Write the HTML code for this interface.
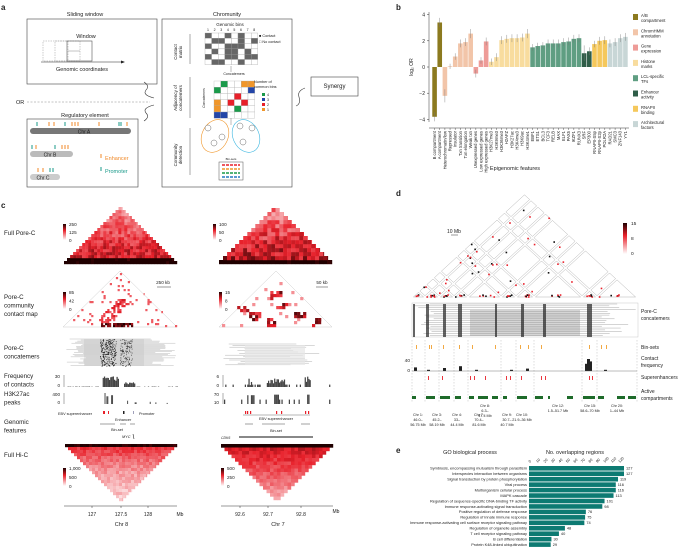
<!DOCTYPE html>
<html><head><meta charset="utf-8">
<style>
html,body{margin:0;padding:0;background:#fff;}
svg{display:block;font-family:"Liberation Sans",sans-serif;}
text{fill:#222;}
</style></head>
<body>
<svg id="fig" width="685" height="548" viewBox="0 0 685 548" xmlns="http://www.w3.org/2000/svg">
<defs>
<linearGradient id="cbar" x1="0" y1="1" x2="0" y2="0"><stop offset="0" stop-color="#fff"/><stop offset="0.6" stop-color="#e8202a"/><stop offset="1" stop-color="#200000"/></linearGradient>
</defs>
<text x="1" y="10" font-size="8" font-weight="bold">a</text>
<text x="396" y="10" font-size="8" font-weight="bold">b</text>
<text x="1" y="208" font-size="8" font-weight="bold">c</text>
<text x="396" y="196" font-size="8" font-weight="bold">d</text>
<text x="396" y="453" font-size="8" font-weight="bold">e</text>

<g id="pa" font-size="5.5">
  <text x="85" y="16" text-anchor="middle">Sliding window</text>
  <rect x="27" y="19" width="130" height="65" fill="none" stroke="#444" stroke-width="0.6"/>
  <text x="86" y="38" text-anchor="middle">Window</text>
  <rect x="43" y="41" width="25" height="20" fill="none" stroke="#999" stroke-width="0.5" stroke-dasharray="1.5,1"/>
  <rect x="55" y="41" width="25" height="20" fill="none" stroke="#999" stroke-width="0.5" stroke-dasharray="1.5,1"/>
  <rect x="67" y="41" width="25" height="20" fill="none" stroke="#555" stroke-width="0.6"/>
  <line x1="68" y1="51" x2="80" y2="51" stroke="#888" stroke-width="0.5"/>
  <line x1="41" y1="62" x2="124" y2="62" stroke="#222" stroke-width="0.6"/>
  <polygon points="125,62 121,60.5 121,63.5" fill="#222"/>
  <text x="82" y="71" text-anchor="middle">Genomic coordinates</text>
  <text x="16" y="104">OR</text>
  <line x1="27" y1="102" x2="150" y2="102" stroke="#888" stroke-width="0.5" stroke-dasharray="2,1.5"/>
  <path d="M144,82 q6,4 2,8 q-4,5 8,8" fill="none" stroke="#333" stroke-width="0.6"/>
  <path d="M144,121 q6,-4 2,-8 q-4,-5 8,-8" fill="none" stroke="#333" stroke-width="0.6"/>
  <text x="85" y="117" text-anchor="middle">Regulatory element</text>
  <rect x="27" y="119" width="111" height="68" fill="none" stroke="#444" stroke-width="0.6"/>
  <rect x="30" y="128" width="101" height="6" rx="3" fill="#777"/>
  <text x="84" y="133.5" text-anchor="middle" font-size="5">Chr A</text>
  <rect x="30" y="151" width="43" height="6" rx="3" fill="#bbb"/>
  <text x="50" y="156.5" text-anchor="middle" font-size="5">Chr B</text>
  <rect x="30" y="174" width="30" height="6" rx="3" fill="#ccc"/>
  <text x="43" y="179.5" text-anchor="middle" font-size="5">Chr C</text>
  <g stroke-width="1">
    <line x1="37" y1="122" x2="37" y2="126" stroke="#1a9a8a"/><line x1="49" y1="122" x2="49" y2="126" stroke="#f08a2a"/><line x1="54" y1="122" x2="54" y2="126" stroke="#f08a2a"/><line x1="65" y1="122" x2="65" y2="126" stroke="#1a9a8a"/><line x1="72" y1="122" x2="72" y2="126" stroke="#f08a2a"/><line x1="75" y1="122" x2="75" y2="126" stroke="#f08a2a"/><line x1="78" y1="122" x2="78" y2="126" stroke="#f08a2a"/><line x1="99" y1="122" x2="99" y2="126" stroke="#f08a2a"/><line x1="119" y1="122" x2="119" y2="126" stroke="#1a9a8a"/><line x1="121" y1="122" x2="121" y2="126" stroke="#1a9a8a"/><line x1="127" y1="122" x2="127" y2="126" stroke="#f08a2a"/>
    <line x1="32" y1="145" x2="32" y2="149" stroke="#1a9a8a"/><line x1="36" y1="145" x2="36" y2="149" stroke="#f08a2a"/><line x1="55" y1="145" x2="55" y2="149" stroke="#1a9a8a"/><line x1="62" y1="145" x2="62" y2="149" stroke="#f08a2a"/><line x1="65" y1="145" x2="65" y2="149" stroke="#f08a2a"/><line x1="68" y1="145" x2="68" y2="149" stroke="#f08a2a"/>
    <line x1="38" y1="168" x2="38" y2="172" stroke="#f08a2a"/><line x1="43" y1="168" x2="43" y2="172" stroke="#f08a2a"/><line x1="50" y1="168" x2="50" y2="172" stroke="#1a9a8a"/><line x1="53" y1="168" x2="53" y2="172" stroke="#1a9a8a"/>
    <line x1="101" y1="154" x2="101" y2="158" stroke="#f08a2a"/><line x1="101" y1="167" x2="101" y2="171" stroke="#1a9a8a"/>
  </g>
  <text x="105" y="160" style="fill:#f08a2a">Enhancer</text>
  <text x="105" y="173" style="fill:#1a9a8a">Promoter</text>

  <text x="227" y="16" text-anchor="middle">Chromunity</text>
  <rect x="162" y="19" width="130" height="168" fill="none" stroke="#444" stroke-width="0.6"/>
  <text x="230" y="26" text-anchor="middle" font-size="4.5">Genomic bins</text>
  <g id="cmat"></g>
  <g id="amat"></g>
  <text x="259" y="37" font-size="3.8">■ Contact</text>
  <text x="259" y="43" font-size="3.8">□ No contact</text>
  <text x="254" y="83" font-size="3.8">Number of</text>
  <text x="254" y="88" font-size="3.8">common bins</text>
  <rect x="262" y="93" width="3" height="3" fill="#1a9a4a"/><rect x="262" y="98" width="3" height="3" fill="#2346a8"/><rect x="262" y="103" width="3" height="3" fill="#e8202a"/><rect x="262" y="108" width="3" height="3" fill="#f0962a"/>
  <text x="267" y="96" font-size="3.5">4</text><text x="267" y="101" font-size="3.5">3</text><text x="267" y="106" font-size="3.5">2</text><text x="267" y="111" font-size="3.5">1</text>
  <text transform="translate(177,52) rotate(-90)" text-anchor="middle" font-size="4.5">Contact</text>
  <text transform="translate(182,52) rotate(-90)" text-anchor="middle" font-size="4.5">matrix</text>
  <text transform="translate(177,98) rotate(-90)" text-anchor="middle" font-size="4.5">Adjacency of</text>
  <text transform="translate(182,98) rotate(-90)" text-anchor="middle" font-size="4.5">concatemers</text>
  <text transform="translate(177,155) rotate(-90)" text-anchor="middle" font-size="4.5">Community</text>
  <text transform="translate(182,155) rotate(-90)" text-anchor="middle" font-size="4.5">detection</text>
  <line x1="190" y1="34" x2="190" y2="64" stroke="#555" stroke-width="0.5"/>
  <line x1="190" y1="77" x2="190" y2="118" stroke="#555" stroke-width="0.5"/>
  <line x1="190" y1="128" x2="190" y2="175" stroke="#555" stroke-width="0.5"/>
  <ellipse cx="215" cy="136" rx="13" ry="17" transform="rotate(25 215 136)" fill="none" stroke="#f0962a" stroke-width="0.6"/>
  <ellipse cx="246" cy="136" rx="13" ry="17" transform="rotate(-25 246 136)" fill="none" stroke="#3ab6e0" stroke-width="0.6"/>
  <g fill="#fff" stroke="#444" stroke-width="0.4"><circle cx="208" cy="128" r="3"/><circle cx="222" cy="137" r="3"/><circle cx="214" cy="143" r="3"/><circle cx="240" cy="126" r="3"/><circle cx="252" cy="128" r="3"/><circle cx="243" cy="142" r="3"/></g>
  <rect x="219" y="162" width="24" height="18" fill="none" stroke="#555" stroke-width="0.5"/>
  <text x="231" y="160" text-anchor="middle" font-size="3">Bin-sets</text>
  <g stroke-width="1.5" stroke-dasharray="3,1"><line x1="222" y1="165" x2="240" y2="165" stroke="#e8202a"/><line x1="222" y1="169" x2="240" y2="169" stroke="#f0962a"/><line x1="222" y1="173" x2="240" y2="173" stroke="#1a9a4a"/><line x1="222" y1="177" x2="240" y2="177" stroke="#2378c0"/></g>
  <path d="M296,106 q5,-2 3,-9 q-2,-6 6,-9" fill="none" stroke="#333" stroke-width="0.6"/>
  <rect x="311" y="77" width="47" height="19" fill="none" stroke="#444" stroke-width="0.6"/>
  <text x="334.5" y="88" text-anchor="middle" font-size="6">Synergy</text>
</g>

<g id="pb"></g>
<g id="pc" font-size="6"></g>
<g id="pd"></g>
<g id="pe"></g>
</svg>

<script>
// ---- Panel b data ----
const bLabels = ["B compartment","A compartment","Heterochromatin/low","Repressed","Insulator","Txn transition","Txn elongation","Weak txn","Unexpressed genes","Low expressed genes","High expressed genes","H3K27me3","H3K9me3","H3K36me3","H2AFZ","H3K27ac","H3K4me3","H3K9ac","H3K4me1","EBF1","ETS1","BCL3","TCF3","RELB","MAX","ELF1","PAX5","IKZF1","RUNX3","SRF","EP300","RNAPII-S5p","RNAPII-S2p","POLR2A","RAD21","SMC3","ZNF143","YY1"];
const bValues = [-3.8,3.4,-2.2,0.05,0.8,1.8,1.9,2.55,-0.5,0.5,1.95,0.4,0.75,2.05,2.15,2.2,2.2,2.25,2.55,1.5,1.6,1.65,1.8,1.8,1.8,1.9,1.95,2.15,2.2,1.05,1.2,1.75,2.0,2.05,1.8,1.9,2.2,2.3];
const bErrors = [0.35,0.35,0.5,0.2,0.25,0.3,0.3,0.35,0.3,0.25,0.3,0.25,0.3,0.3,0.3,0.3,0.3,0.3,0.35,0.25,0.25,0.25,0.3,0.3,0.3,0.3,0.3,0.3,0.3,0.6,0.3,0.25,0.3,0.3,0.3,0.3,0.3,0.3];
const bGroups = [0,0,1,1,1,1,1,1,2,2,2,3,3,3,3,3,3,3,3,4,4,4,4,4,4,4,4,4,4,5,5,6,6,6,7,7,7,7];
const bGroupNames = [["A/B","compartment"],["ChromHMM","annotation"],["Gene","expression"],["Histone","marks"],["LCL-specific","TFs"],["Enhancer","activity"],["RNAPII","binding"],["Architectural","factors"]];
const bGroupColors = ["#8c7a1f","#f2c5a9","#ee9c98","#f8dc9e","#5f9e82","#2f5d48","#f5c85c","#c8d6d6"];
const bTicks = [-4,-2,0,2,4];

// ---- Panel e data ----
const eLabels = ["Symbiosis, encompassing mutualism through parasitism","Interspecies interaction between organisms","Signal transduction by protein phosphorylation","Viral process","Multiorganism cellular process","MAPK cascade","Regulation of sequence-specific DNA-binding TF activity","Immune response-activating signal transduction","Positive regulation of defense response","Regulation of innate immune response","Immune response-activating cell surface receptor signaling pathway","Regulation of organelle assembly","T cell receptor signaling pathway","B cell differentiation","Protein K48-linked ubiquitination"];
const eValues = [127,127,119,116,116,113,101,98,76,75,74,48,40,30,29];
const eTicks = [0,10,20,30,40,50,60,70,80,90,100,110,120];

const NS="http://www.w3.org/2000/svg";
function mk(parent,tag,attrs,txt){const e=document.createElementNS(NS,tag);for(const k in attrs)e.setAttribute(k,attrs[k]);if(txt!==undefined)e.textContent=txt;parent.appendChild(e);return e;}
function hsh(i,j){const s=Math.sin(i*12.9898+j*78.233)*43758.5453;return s-Math.floor(s);}
function red(t){t=Math.max(0,Math.min(1,t));if(t<0.6){const k=t/0.6;return `rgb(${Math.round(255-(255-232)*k)},${Math.round(255-(255-32)*k)},${Math.round(255-(255-42)*k)})`;}const k=(t-0.6)/0.4;return `rgb(${Math.round(232-200*k)},${Math.round(32-32*k)},${Math.round(42-42*k)})`;}

// ---------- panel b ----------
(function(){
  const g=document.getElementById('pb');
  const x0=432,x1=628,y=v=>67-v*13.1;
  const step=(x1-x0)/bValues.length;
  mk(g,'line',{x1:429,y1:y(4.2),x2:429,y2:y(-4.2),stroke:'#333','stroke-width':0.5});
  mk(g,'line',{x1:429,y1:128,x2:629,y2:128,stroke:'#333','stroke-width':0.5});
  bTicks.forEach(t=>{
    mk(g,'line',{x1:427,y1:y(t),x2:429,y2:y(t),stroke:'#333','stroke-width':0.5});
    const tx=mk(g,'text',{x:425,y:y(t)+2,'font-size':5,'text-anchor':'end'},t<0?'\u2212'+(-t):String(t));
    
    
  });
  const yl=mk(g,'text',{transform:`translate(413,67) rotate(-90)`,'font-size':5,'text-anchor':'middle'},'log\u2082 OR');
  
  
  bValues.forEach((v,i)=>{
    const cx=x0+step*(i+0.5);
    const r=mk(g,'rect',{x:cx-2.3,y:Math.min(y(v),y(0)),width:4.6,height:Math.abs(y(v)-y(0)),fill:bGroupColors[bGroups[i]]});
    
    
    const e=bErrors[i]*(v<0?-1:1);
    mk(g,'line',{x1:cx,y1:y(v-e),x2:cx,y2:y(v+e),stroke:'#777','stroke-width':0.4});
    mk(g,'line',{x1:cx,y1:128,x2:cx,y2:130,stroke:'#333','stroke-width':0.4});
    const t=mk(g,'text',{transform:`translate(${cx+1.4},131) rotate(-90)`,'font-size':4.2,'text-anchor':'end'},bLabels[i]);
    
    
  });
  const xt=mk(g,'text',{x:515,y:170,'font-size':5.5,'text-anchor':'middle'},'Epigenomic features');
  
  
  bGroupNames.forEach((n,i)=>{
    const ly=14+i*15.3;
    const r=mk(g,'rect',{x:633,y:ly,width:5,height:6,fill:bGroupColors[i]});
    
    
    mk(g,'text',{x:641,y:ly+3,'font-size':4.2},n[0]);
    mk(g,'text',{x:641,y:ly+8,'font-size':4.2},n[1]);
  });
})();

// ---------- panel e ----------
(function(){
  const g=document.getElementById('pe');
  const bx=529,sc=95/127,y0=466,st=5.45;
  mk(g,'text',{x:470,y:454,'font-size':5.5,'text-anchor':'middle'},'GO biological process');
  mk(g,'text',{x:575,y:454,'font-size':5.5,'text-anchor':'middle'},'No. overlapping regions');
  eTicks.forEach(t=>{
    const tx=mk(g,'text',{transform:`translate(${bx+t*sc+1},463) rotate(-45)`,'font-size':3.8},String(t));
    
    
  });
  eValues.forEach((v,i)=>{
    const yy=y0+i*st;
    const r=mk(g,'rect',{x:bx,y:yy,width:v*sc,height:4.6,fill:'#0d7a72'});
    
    
    mk(g,'text',{x:bx-2,y:yy+3.6,'font-size':3.9,'text-anchor':'end'},eLabels[i]);
    mk(g,'text',{x:bx+v*sc+2,y:yy+3.6,'font-size':3.9},String(v));
  });
})();

// ---------- panel a matrices ----------
(function(){
  const g=document.getElementById('cmat');
  const pat=["10010100","01100101","10011100","01011010","10011011","01100100"];
  for(let r=0;r<6;r++)for(let c=0;c<8;c++)mk(g,'rect',{x:205+c*6.6,y:33+r*5.3,width:6.6,height:5.3,fill:pat[r][c]=='1'?'#666':'#fff',stroke:'#999','stroke-width':0.3});
  for(let c=0;c<8;c++)mk(g,'text',{x:208+c*6.6,y:31,'font-size':3.5,'text-anchor':'middle'},String(c+1));
  mk(g,'line',{x1:231,y1:66,x2:231,y2:72,stroke:'#555','stroke-width':0.4});
  const a=document.getElementById('amat');
  const col={4:'#1a9a4a',3:'#2346a8',2:'#e8202a',1:'#f0962a'};
  const m=[[0,4,0,0,1,1],[4,0,0,0,0,3],[0,0,0,2,0,0],[1,0,2,0,2,0],[1,0,0,4,0,0],[3,3,0,0,0,0]];
  for(let r=0;r<6;r++)for(let c=0;c<6;c++)mk(a,'rect',{x:214+c*6.8,y:81+r*6.2,width:6.8,height:6.2,fill:m[r][c]?col[m[r][c]]:'#fff',stroke:'#aaa','stroke-width':0.3});
  mk(a,'text',{x:234,y:75,'font-size':3.6,'text-anchor':'middle'},'Concatemers');
  mk(a,'text',{transform:'translate(205,98) rotate(-90)','font-size':3.3,'text-anchor':'middle'},'Concatemers');
  mk(a,'line',{x1:231,y1:118,x2:231,y2:125,stroke:'#555','stroke-width':0.4});
})();

function triHeat(g,xa,xb,yb,h,up,fn,cell){
  const w=xb-xa;
  for(let yy=0;yy<h;yy+=cell){
    const d=yy/h; const half=(1-d)*w/2;
    const cx=(xa+xb)/2;
    for(let xx=cx-half;xx<cx+half-0.1;xx+=cell){
      const u=(xx-xa)/w;
      const v=fn(u,d,Math.round(xx*7),Math.round(yy*7));
      if(v<0.04)continue;
      const py=up?yb-yy-cell:yb+yy;
      mk(g,'rect',{x:xx.toFixed(1),y:py.toFixed(1),width:Math.min(cell,cx+half-xx)+0.2,height:cell+0.2,fill:red(v)});
    }
  }
}
(function(){
  const g=document.getElementById('pc');
  const lab=(x,y,lines)=>lines.forEach((l,i)=>mk(g,'text',{x:x,y:y+i*8.5,'font-size':6.2},l));
  lab(4,235,['Full Pore-C']);
  lab(4,299,['Pore-C','community','contact map']);
  lab(4,350,['Pore-C','concatemers']);
  lab(4,378,['Frequency','of contacts']);
  lab(4,396,['H3K27ac','peaks']);
  lab(4,424,['Genomic','features']);
  lab(4,457,['Full Hi-C']);
  const cb=(x,y,h,labels)=>{mk(g,'rect',{x:x,y:y,width:3,height:h,fill:'url(#cbar)'});labels.forEach((t,i)=>mk(g,'text',{x:x+6,y:y+2+i*h/2,'font-size':4.6},t));};
  cb(63,224,16,['250','125','0']);cb(213,224,16,['100','50','0']);
  cb(63,292,17,['85','42','0']);cb(219,292,17,['15','8','0']);
  cb(63,468,18,['1,000','500','0']);cb(221,468,18,['500','250','0']);
  triHeat(g,64,177,264,56,true,(u,d,i,j)=>0.15+0.4*(1-d)+0.3*hsh(i,j)+(d<0.06?0.4:0),3);
  triHeat(g,219,332,264,56,true,(u,d,i,j)=>0.15+0.4*(1-d)+0.35*hsh(i,j)+(d<0.07?0.4:0),4);
  mk(g,'polygon',{points:'63,327 120,271 177,327',fill:'none',stroke:'#ccc','stroke-width':0.5});
  mk(g,'polygon',{points:'219,327 276,271 332,327',fill:'none',stroke:'#ccc','stroke-width':0.5});
  triHeat(g,63,177,327,56,true,(u,d,i,j)=>{const r=hsh(i,j);let v=r>0.93?0.25+0.2*r:0;if(u>0.3&&u<0.65&&Math.abs(u-0.3-d*0.5)<0.07&&d<0.5&&r>0.4)v=Math.max(v,0.25+0.4*r);if(d<0.07&&u>0.33&&u<0.6&&r>0.3)v=0.6+0.4*r;return v;},2);
  triHeat(g,219,332,327,56,true,(u,d,i,j)=>{const r=hsh(i,j);const bl=[[0.3,0.15],[0.55,0.35],[0.7,0.18],[0.45,0.05],[0.85,0.05],[0.2,0.3],[0.5,0.55]];let v=0;bl.forEach(b=>{if(Math.abs(u-b[0])<0.05&&Math.abs(d-b[1])<0.07&&r>0.3)v=Math.max(v,0.3+0.6*r);});if(r>0.96)v=Math.max(v,0.3);return v;},3);
  mk(g,'text',{x:163,y:284,'font-size':4.6,'text-anchor':'middle'},'250 kb');
  mk(g,'line',{x1:157,y1:287,x2:171,y2:287,stroke:'#333','stroke-width':0.5});
  mk(g,'text',{x:322,y:284,'font-size':4.6,'text-anchor':'middle'},'50 kb');
  mk(g,'line',{x1:316,y1:287,x2:328,y2:287,stroke:'#333','stroke-width':0.5});
  // concatemers left
  for(let k=0;k<26;k++){const yy=339+k*1.05;const xs=66+hsh(k,1)*20,xe=150+hsh(k,2)*27;mk(g,'line',{x1:xs,y1:yy,x2:xe,y2:yy,stroke:'#bbb','stroke-width':0.5});}
  mk(g,'rect',{x:84,y:339,width:60,height:27,fill:'#bbb',opacity:0.3});
  for(let k=0;k<260;k++){const xx=100+hsh(k,21)*16,yy=339+hsh(k,22)*27;mk(g,'rect',{x:xx,y:yy,width:0.8,height:0.8,fill:'#222'});}
  for(let k=0;k<120;k++){const xx=120+hsh(k,23)*12,yy=339+hsh(k,24)*27;mk(g,'rect',{x:xx,y:yy,width:0.8,height:0.8,fill:'#333'});}
  // concatemers right
  for(let k=0;k<14;k++){const yy=344+k*1.6;const xs=222+hsh(k,3)*25,xe=290+hsh(k,4)*30;mk(g,'line',{x1:xs,y1:yy,x2:xe,y2:yy,stroke:'#aaa','stroke-width':0.45});}
  mk(g,'rect',{x:245,y:345,width:60,height:20,fill:'#e6e6e6',opacity:0.7});
  const track=(x0,x1,yb,h,lbls,fn,n)=>{mk(g,'line',{x1:x0,y1:yb-h,x2:x0,y2:yb,stroke:'#333','stroke-width':0.4});mk(g,'text',{x:x0-4,y:yb-h+3,'font-size':4.6,'text-anchor':'end'},lbls[0]);mk(g,'text',{x:x0-4,y:yb,'font-size':4.6,'text-anchor':'end'},lbls[1]);for(let k=0;k<n;k++){const u=k/n;const v=fn(u,k);if(v>0.02)mk(g,'rect',{x:x0+1+u*(x1-x0),y:yb-v*h,width:(x1-x0)/n,height:v*h,fill:'#444'});}};
  track(64,177,387,12,['30','0'],(u,k)=>u>0.33&&u<0.47?0.5+0.4*hsh(k,5):(u>0.52&&u<0.62?0.2+0.2*hsh(k,6):0.04*hsh(k,7)),90);
  track(64,177,404,11,['400','0'],(u,k)=>{const p=[[0.35,1],[0.37,0.7],[0.41,0.8],[0.55,0.3],[0.62,0.15],[0.75,0.2],[0.8,0.15],[0.9,0.1]];let v=0;p.forEach(q=>{if(Math.abs(u-q[0])<0.008)v=q[1];});return v;},120);
  track(223,333,387,12,['6','0'],(u,k)=>{const r=hsh(k,8);if(u>0.38&&u<0.55)return 0.3+0.4*r;if(u>0.73&&u<0.78)return 0.4+0.5*r;if(u>0.22&&u<0.25)return 0.7*r;return r>0.8?0.2:0;},90);
  track(223,333,404,11,['70','10'],(u,k)=>{const r=hsh(k,9);if(u>0.2&&u<0.27)return r>0.4?0.8:0;if((u>0.45&&u<0.5)||(u>0.74&&u<0.8))return r>0.4?0.85:0;return r>0.85?0.4:0;},90);
  mk(g,'text',{x:58,y:415,'font-size':3.8},'EBV superenhancer');
  mk(g,'rect',{x:103,y:411,width:2,height:3,fill:'#e8202a'});mk(g,'rect',{x:108,y:411,width:1,height:3,fill:'#e8202a'});
  mk(g,'rect',{x:123,y:411,width:1.5,height:3,fill:'#222'});mk(g,'rect',{x:133,y:411,width:0.8,height:3,fill:'#88a'});
  mk(g,'text',{x:139,y:415,'font-size':3.8},'Promoter');
  mk(g,'text',{x:115,y:421,'font-size':3.8},'Enhancer');
  mk(g,'line',{x1:100,y1:424,x2:115,y2:424,stroke:'#888','stroke-width':0.8});mk(g,'line',{x1:120,y1:424,x2:126,y2:424,stroke:'#888','stroke-width':0.8});mk(g,'line',{x1:130,y1:424,x2:135,y2:424,stroke:'#888','stroke-width':0.8});
  mk(g,'text',{x:117,y:431,'font-size':3.8,'text-anchor':'middle'},'Bin-set');
  mk(g,'text',{x:122,y:438,'font-size':3.8,'font-style':'italic'},'MYC');mk(g,'line',{x1:133,y1:434,x2:134,y2:439,stroke:'#222','stroke-width':0.6});
  [245,247,250,276,281,305,308].forEach(x=>mk(g,'rect',{x:x,y:411,width:1.2,height:3,fill:'#e8202a'}));
  mk(g,'line',{x1:243,y1:415,x2:310,y2:415,stroke:'#444','stroke-width':0.4});
  mk(g,'text',{x:276,y:420,'font-size':3.8,'text-anchor':'middle'},'EBV superenhancer');
  mk(g,'line',{x1:245,y1:424,x2:253,y2:424,stroke:'#888','stroke-width':0.8});mk(g,'line',{x1:262,y1:424,x2:285,y2:424,stroke:'#888','stroke-width':0.8});mk(g,'line',{x1:301,y1:424,x2:310,y2:424,stroke:'#888','stroke-width':0.8});
  mk(g,'text',{x:276,y:432,'font-size':3.8,'text-anchor':'middle'},'Bin-set');
  mk(g,'text',{x:221,y:439,'font-size':3.5,'font-style':'italic'},'CDK6');
  mk(g,'line',{x1:239,y1:437,x2:313,y2:437,stroke:'#111','stroke-width':1});
  // Hi-C
  triHeat(g,65,177,444,56,false,(u,d,i,j)=>0.08+0.45*(1-d)*(1-d)+0.15*hsh(i,j)+(d<0.05?0.4:0),3);
  triHeat(g,221,333,444,56,false,(u,d,i,j)=>0.15+0.45*(1-d)+0.15*hsh(i,j)+(d<0.05?0.4:0),3.5);
  const ax=(x0,x1,ticks,chr,mby)=>{mk(g,'line',{x1:x0,y1:506,x2:x1,y2:506,stroke:'#333','stroke-width':0.5});ticks.forEach(t=>{mk(g,'line',{x1:t[0],y1:506,x2:t[0],y2:508,stroke:'#333','stroke-width':0.5});mk(g,'text',{x:t[0],y:516,'font-size':5,'text-anchor':'middle'},t[1]);});mk(g,'text',{x:x1+3,y:mby,'font-size':5,'text-anchor':'middle'},'Mb');mk(g,'text',{x:(x0+x1)/2+1,y:526,'font-size':5.5,'text-anchor':'middle'},chr);};
  ax(64,177,[[92,'127'],[121,'127.5'],[148,'128']],'Chr 8',516);
  ax(221,333,[[240,'92.6'],[268,'92.7'],[301,'92.8']],'Chr 7',513);
})();

// ---------- panel d ----------
(function(){
  const g=document.getElementById('pd');
  const bnd=[412,425,439,454,468,501,516,534,582,597,637];
  const yb=297,f=0.92;
  const P=(u,v)=>[(u+v)/2,yb-(v-u)/2*f];
  mk(g,'text',{x:447,y:233,'font-size':5},'10 Mb');
  mk(g,'line',{x1:451,y1:235,x2:458,y2:235,stroke:'#333','stroke-width':0.5});
  mk(g,'rect',{x:623,y:223,width:4,height:31,fill:'url(#cbar)'});
  mk(g,'text',{x:631,y:225,'font-size':4.8},'15');mk(g,'text',{x:631,y:240,'font-size':4.8},'8');mk(g,'text',{x:631,y:255,'font-size':4.8},'0');
  const n=bnd.length-1;
  for(let i=0;i<n;i++)for(let j=i;j<n;j++){
    const ins=1.4;
    const a=bnd[i]+ins,b=bnd[i+1]-ins,c=bnd[j]+ins,d=bnd[j+1]-ins;
    let pts;
    if(i==j){pts=[P(a,a),P(a,d),P(d,d)];}
    else pts=[P(a,c),P(a,d),P(b,d),P(b,c)];
    mk(g,'polygon',{points:pts.map(p=>p[0].toFixed(1)+','+p[1].toFixed(1)).join(' '),fill:'#fff',stroke:'#aaa','stroke-width':0.45});
    for(let k=0;k<3;k++){
      if(hsh(i*13+j,k)>0.6){const uu=a+(b-a)*hsh(i,j+k),vv=c+(d-c)*hsh(j,i+k);if(vv<uu)continue;const p=P(uu,vv);mk(g,'rect',{x:p[0]-0.8,y:p[1]-0.8,width:1.6,height:1.6,fill:hsh(k,i+j)>0.7?'#111':'#e8202a'});}
    }
    if(i==j){for(let k=0;k<5;k++){const uu=a+(d-a)*(0.3+0.4*hsh(i,k)),p=P(uu,uu+hsh(k,i)*3);mk(g,'rect',{x:p[0]-0.8,y:p[1]-1.5,width:1.6,height:1.6,fill:k%2?'#111':'#e8202a'});}}
  }
  mk(g,'rect',{x:412,y:303,width:226,height:34,fill:'#fff',stroke:'#bbb','stroke-width':0.4});
  for(let k=0;k<18;k++){const yy=304+k*1.85;mk(g,'line',{x1:414+hsh(k,11)*20,y1:yy,x2:600+hsh(k,12)*36,y2:yy,stroke:'#aaa','stroke-width':0.5});}
  mk(g,'rect',{x:470,y:310,width:110,height:26,fill:'#888',opacity:0.35});
  [[413,2],[426,3],[443,3],[458,4],[495,2],[521,3],[543,3],[587,5]].forEach(q=>mk(g,'rect',{x:q[0],y:304,width:q[1],height:33,fill:'#222',opacity:0.7}));
  mk(g,'text',{x:641,y:313,'font-size':5},'Pore-C');mk(g,'text',{x:641,y:320,'font-size':5},'concatemers');
  bnd.forEach(x=>mk(g,'line',{x1:x,y1:340,x2:x,y2:402,stroke:'#aaa','stroke-width':0.4,'stroke-dasharray':'1.5,1.5'}));
  mk(g,'text',{x:641,y:349,'font-size':5},'Bin-sets');
  [416,429,431,443,459,472,495,520,528,541,589,601,606].forEach(x=>mk(g,'rect',{x:x,y:345,width:0.9,height:4,fill:'#f0a030'}));
  mk(g,'text',{x:641,y:360,'font-size':5},'Contact');mk(g,'text',{x:641,y:367,'font-size':5},'frequency');
  mk(g,'text',{x:410,y:362,'font-size':4.8,'text-anchor':'end'},'40');mk(g,'text',{x:410,y:372,'font-size':4.8,'text-anchor':'end'},'0');
  [[414,0.3],[427,0.1],[443,0.25],[459,0.4],[475,0.1],[510,0.1],[526,0.2],[585,0.6],[587,1],[589,0.8],[604,0.1]].forEach(q=>mk(g,'rect',{x:q[0],y:371-q[1]*12,width:3,height:q[1]*12,fill:'#222'}));
  mk(g,'line',{x1:412,y1:371,x2:637,y2:371,stroke:'#555','stroke-width':0.4});
  mk(g,'text',{x:641,y:379,'font-size':5},'Superenhancers');
  [428,442,470,474,485,506,510,521,541,545,589,592].forEach(x=>mk(g,'rect',{x:x,y:376,width:0.9,height:4,fill:'#e8202a'}));
  mk(g,'text',{x:641,y:393,'font-size':5},'Active');mk(g,'text',{x:641,y:400,'font-size':5},'compartments');
  [[412,4],[426,9],[440,10],[455,6],[469,5],[478,10],[492,6],[503,4],[517,10],[535,8],[548,2],[567,6],[583,12],[598,6],[617,8],[628,8]].forEach(q=>mk(g,'rect',{x:q[0],y:396,width:q[1],height:3,fill:'#1e6b2a'}));
  const cl=[[418,['Chr 1:','46.0\u2013','56.75 Mb']],[437,['Chr 3:','45.2\u2013','58.19 Mb']],[457,['Chr 4:','33\u2013','44.4 Mb']],[479,['Chr 7:','70.4\u2013','81.6 Mb']],[485,['Chr 8:','6.3\u2013','47.4 Mb'],true],[507,['Chr 9:','30.7\u2013','40.7 Mb']],[522,['Chr 10:','21.9\u201336 Mb']],[558,['Chr 12:','1.5\u201351.7 Mb'],true],[590,['Chr 15:','58.6\u201370 Mb'],true],[617,['Chr 20:','1\u201344 Mb'],true]];
  cl.forEach(c=>{const y0=c[2]?407:416;c[1].forEach((t,i)=>mk(g,'text',{x:c[0],y:y0+i*5,'font-size':3.7,'text-anchor':'middle'},t));});
})();
</script>
</body></html>
